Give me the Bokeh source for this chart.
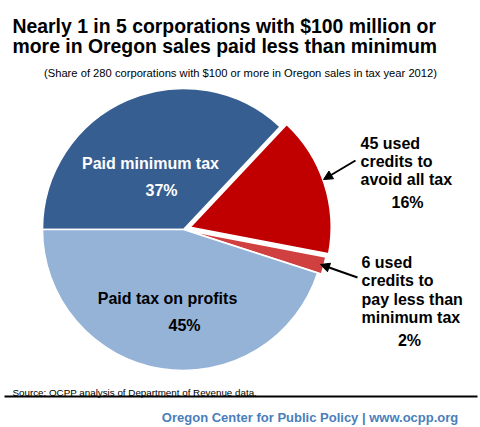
import math
from bokeh.plotting import figure
from bokeh.models import Range1d, Arrow, NormalHead, ColumnDataSource
from bokeh.core.properties import value
from bokeh.embed import file_html
from bokeh.resources import INLINE

# ---- data ----
categories = ["Paid minimum tax", "45 used credits to avoid all tax",
              "6 used credits to pay less than minimum tax", "Paid tax on profits"]
shares = [37, 16, 2, 45]
colors = ["#375E91", "#C00000", "#D04040", "#95B3D7"]
explode = [0, 7, 4, 0]
pct_labels = ["37%", "16%", "2%", "45%"]

title_lines = ["Nearly 1 in 5 corporations with $100 million or",
               "more in Oregon sales paid less than minimum"]
subtitle = "(Share of 280 corporations with $100 or more in Oregon sales in tax year 2012)"
source_note = "Source: OCPP analysis of Department of Revenue data."
footer = "Oregon Center for Public Policy  |  www.ocpp.org"

FONT = value("Liberation Sans")

W, H = 480, 427
p = figure(width=W, height=H, x_range=Range1d(0, W), y_range=Range1d(-H, 0),
           output_backend="svg", toolbar_location=None, min_border=0)
p.axis.visible = False
p.grid.visible = False
p.outline_line_color = None
p.background_fill_color = "white"
p.border_fill_color = "white"

# ---- pie ----
cx, cy, r = 183.0, -229.0, 141.0
start = 180.0
xs, ys, sa, ea = [], [], [], []
for s, off in zip(shares, explode):
    span = s / 100.0 * 360.0
    end_a = start
    start_a = start - span
    mid = math.radians((start_a + end_a) / 2)
    xs.append(cx + off * math.cos(mid))
    ys.append(cy + off * math.sin(mid))
    sa.append(math.radians(start_a))
    ea.append(math.radians(end_a))
    start = start_a

src = ColumnDataSource(dict(x=xs, y=ys, sa=sa, ea=ea, color=colors, cat=categories))
p.wedge(x="x", y="y", radius=r, start_angle="sa", end_angle="ea", fill_color="color",
        line_color="white", line_width=1.5, source=src)


def txt(x, y, t, size, color="black", bold=True, align="left"):
    p.text(x=[x], y=[-y], text=[t], text_font=FONT, text_font_size=size,
           text_font_style="bold" if bold else "normal", text_color=color,
           text_align=align, text_baseline="alphabetic")


txt(12, 25, title_lines[0], "19.4px")
txt(12, 45, title_lines[1], "19.4px")
txt(240, 72, subtitle, "11.2px", bold=False, align="center")

txt(150, 163, categories[0], "16px", color="white", align="center")
txt(161, 190, pct_labels[0], "16px", color="white", align="center")
txt(167, 298, categories[3], "16px", align="center")
txt(184, 325, pct_labels[3], "16px", align="center")

for i, line in enumerate(["45 used", "credits to", "avoid all tax"]):
    txt(360, 143 + 18 * i, line, "16px")
txt(407, 202, pct_labels[1], "16px", align="center")
for i, line in enumerate(["6 used", "credits to", "pay less than", "minimum tax"]):
    txt(361, 262 + 18.3 * i, line, "16px")
txt(409, 340, pct_labels[2], "16px", align="center")

for (x0, y0, x1, y1) in [(355, 160, 323, 179), (357, 277, 320, 264)]:
    p.add_layout(Arrow(x_start=x0, y_start=-y0, x_end=x1, y_end=-y1, line_width=2,
                       line_color="black",
                       end=NormalHead(size=9, fill_color="black", line_color="black")))

txt(12, 392, source_note, "9.8px", bold=False)
p.line(x=[4, 477], y=[-396, -396], line_color="black", line_width=2)
txt(465, 417, footer, "13px", color="#4A7EBB", align="right")

open("out.html", "w").write(file_html(p, INLINE))
